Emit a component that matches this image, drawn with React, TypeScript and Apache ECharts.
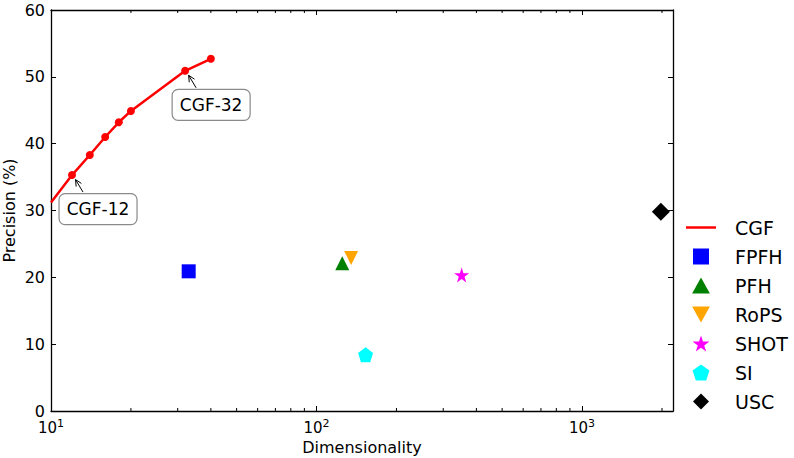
import React, { useEffect, useRef } from "react";
import * as echarts from "echarts";

// ---- data ----
const cgfDims = [10, 12, 14, 16, 18, 20, 32, 40];
const cgfPrecision = [31.2, 35.3, 38.3, 41.0, 43.2, 44.9, 50.9, 52.7];
const descriptorNames = ["FPFH", "PFH", "RoPS", "SHOT", "SI", "USC"];
const descriptorDims = [33, 125, 135, 352, 153, 1980];
const descriptorPrecision = [20.9, 22.1, 22.9, 20.35, 8.4, 29.8];
const xMin = 10;
const xMax = 2200;
const yMin = 0;
const yMax = 60;
const yInterval = 10;
const xMinorTicks = [20, 30, 40, 50, 60, 70, 80, 90, 200, 300, 400, 500, 600, 700, 800, 900, 2000];
const annotationLabels = ["CGF-12", "CGF-32"];
const annotationIndices = [1, 6];

// ---- styles ----
const FONT = "DejaVu Sans";
const descriptorColors = ["#0000ff", "#008000", "#ffa500", "#ff00ff", "#00ffff", "#000000"];
const P_SQUARE = "path://M0,0H10V10H0Z";
const P_TRI_UP = "path://M5,0L10,9L0,9Z";
const P_TRI_DOWN = "path://M0,0L10,0L5,9Z";
const P_STAR =
  "path://M10,0L12.245,6.91L19.51,6.91L13.633,11.18L15.878,18.09L10,13.82L4.122,18.09L6.367,11.18L0.49,6.91L7.755,6.91Z";
const P_PENT = "path://M10,0L19.51,6.91L15.878,18.09L4.122,18.09L0.49,6.91Z";
const P_DIAMOND = "path://M5,0L10,5L5,10L0,5Z";
const descriptorSymbols = [P_SQUARE, P_TRI_UP, P_TRI_DOWN, P_STAR, P_PENT, P_DIAMOND];
const descriptorSizes = [14, 14, 14, 15, 15, 18];
const P_LINE = "path://M0,0H30V2.5H0Z";

export default function App() {
  const ref = useRef<HTMLDivElement>(null);

  useEffect(() => {
    if (!ref.current) return;
    const chart = echarts.init(ref.current, null, { renderer: "svg" });

    const cgfData = cgfDims.map((d, i) =>
      i === 0 ? { value: [d, cgfPrecision[i]], symbolSize: 0 } : { value: [d, cgfPrecision[i]] }
    );

    const scatterSeries = descriptorNames.map((name, i) => ({
      name,
      type: "scatter",
      data: [[descriptorDims[i], descriptorPrecision[i]]],
      symbol: descriptorSymbols[i],
      symbolSize: descriptorSizes[i],
      itemStyle: { color: descriptorColors[i], opacity: 1 },
      z: 3,
    }));

    const axisLine = { show: true, onZero: false, lineStyle: { color: "#000", width: 1.3 } };

    const option: any = {
      animation: false,
      backgroundColor: "#fff",
      textStyle: { fontFamily: FONT },
      grid: { left: 51, right: 121, top: 10, bottom: 47, containLabel: false, outerBoundsMode: "none" },
      legend: {
        orient: "vertical",
        left: 681,
        top: 213,
        itemWidth: 30,
        itemHeight: 16,
        itemGap: 10,
        selectedMode: false,
        textStyle: { fontSize: 19, color: "#000", fontFamily: FONT, padding: [0, 0, 0, 14] },
        data: [
          { name: "CGF", icon: P_LINE },
          ...descriptorNames.map((n, i) => ({ name: n, icon: descriptorSymbols[i] })),
        ],
      },
      xAxis: [
        {
          type: "log",
          logBase: 10,
          min: xMin,
          max: xMax,
          name: "Dimensionality",
          nameLocation: "middle",
          nameGap: 28,
          nameMoveOverlap: false,
          nameTextStyle: { fontSize: 16, color: "#000", fontFamily: FONT },
          axisLine,
          axisTick: { show: true, inside: true, length: 5, lineStyle: { color: "#000", width: 1 } },
          axisLabel: {
            show: true,
            showMaxLabel: false,
            margin: 7,
            color: "#000",
            fontFamily: FONT,
            fontSize: 15,
            formatter: (v: number) => `10{s|${Math.round(Math.log10(v))}}`,
            rich: {
              s: { fontSize: 11, fontFamily: FONT, color: "#000", padding: [0, 0, 8, 0] },
            },
          },
          splitLine: { show: false },
        },
        {
          type: "log",
          logBase: 10,
          min: xMin,
          max: xMax,
          position: "top",
          axisLine,
          axisTick: { show: true, inside: true, length: 5, lineStyle: { color: "#000", width: 1 } },
          axisLabel: { show: false },
          splitLine: { show: false },
        },
      ],
      yAxis: [
        {
          type: "value",
          min: yMin,
          max: yMax,
          interval: yInterval,
          name: "Precision (%)",
          nameLocation: "middle",
          nameGap: 34,
          nameMoveOverlap: false,
          nameTextStyle: { fontSize: 16, color: "#000", fontFamily: FONT },
          axisLine,
          axisTick: { show: true, inside: true, length: 5, lineStyle: { color: "#000", width: 1 } },
          axisLabel: { color: "#000", fontSize: 16, lineHeight: 12, fontFamily: FONT, margin: 6 },
          splitLine: { show: false },
        },
        {
          type: "value",
          min: yMin,
          max: yMax,
          interval: yInterval,
          position: "right",
          axisLine,
          axisTick: { show: true, inside: true, length: 5, lineStyle: { color: "#000", width: 1 } },
          axisLabel: { show: false },
          splitLine: { show: false },
        },
      ],
      series: [
        {
          name: "CGF",
          type: "line",
          data: cgfData,
          symbol: "circle",
          symbolSize: 8,
          showSymbol: true,
          lineStyle: { color: "#ff0000", width: 2.5 },
          itemStyle: { color: "#ff0000" },
          z: 4,
        },
        ...scatterSeries,
        {
          name: "minorTicks",
          type: "custom",
          silent: true,
          clip: false,
          data: xMinorTicks.map((v) => [v, 0]),
          encode: { x: 0, y: 1 },
          renderItem: (params: any, api: any) => {
            const cs = params.coordSys;
            const x = api.coord([api.value(0), 0])[0];
            const style = { stroke: "#000", lineWidth: 1 };
            return {
              type: "group",
              children: [
                { type: "line", shape: { x1: x, y1: cs.y + cs.height, x2: x, y2: cs.y + cs.height - 3 }, style },
                { type: "line", shape: { x1: x, y1: cs.y, x2: x, y2: cs.y + 3 }, style },
              ],
            };
          },
        },
      ],
    };

    chart.setOption(option);

    const graphics: any[] = [];
    annotationIndices.forEach((idx, k) => {
      const p = chart.convertToPixel({ gridIndex: 0 }, [cgfDims[idx], cgfPrecision[idx]]) as number[];
      const px = p[0];
      const py = p[1];
      const bw = 78;
      const bh = 31;
      const cx = px + 26;
      const cy = py + 34;
      graphics.push({
        type: "rect",
        z: 100,
        shape: { x: cx - bw / 2, y: cy - bh / 2, width: bw, height: bh, r: 6 },
        style: { fill: "#fff", stroke: "#8a8a8a", lineWidth: 1.2 },
      });
      graphics.push({
        type: "text",
        z: 101,
        x: cx,
        y: cy,
        style: {
          text: annotationLabels[k],
          fontSize: 17,
          fontFamily: FONT,
          fill: "#000",
          align: "center",
          verticalAlign: "middle",
        },
      });
      const tx = px + 11;
      const ty = py + 17;
      const hx = px + 3.5;
      const hy = py + 4.5;
      const ang = Math.atan2(hy - ty, hx - tx);
      const hl = 7;
      const spread = 0.45;
      graphics.push({
        type: "line",
        z: 101,
        shape: { x1: tx, y1: ty, x2: hx, y2: hy },
        style: { stroke: "#000", lineWidth: 1 },
      });
      graphics.push({
        type: "polyline",
        z: 101,
        shape: {
          points: [
            [hx - hl * Math.cos(ang - spread), hy - hl * Math.sin(ang - spread)],
            [hx, hy],
            [hx - hl * Math.cos(ang + spread), hy - hl * Math.sin(ang + spread)],
          ],
        },
        style: { stroke: "#000", lineWidth: 1, fill: "none" },
      });
    });
    chart.setOption({ graphic: graphics });

    return () => chart.dispose();
  }, []);

  return (
    <div
      ref={ref}
      style={{ position: "fixed", left: 0, top: 0, width: 794, height: 458, background: "#fff" }}
    />
  );
}
